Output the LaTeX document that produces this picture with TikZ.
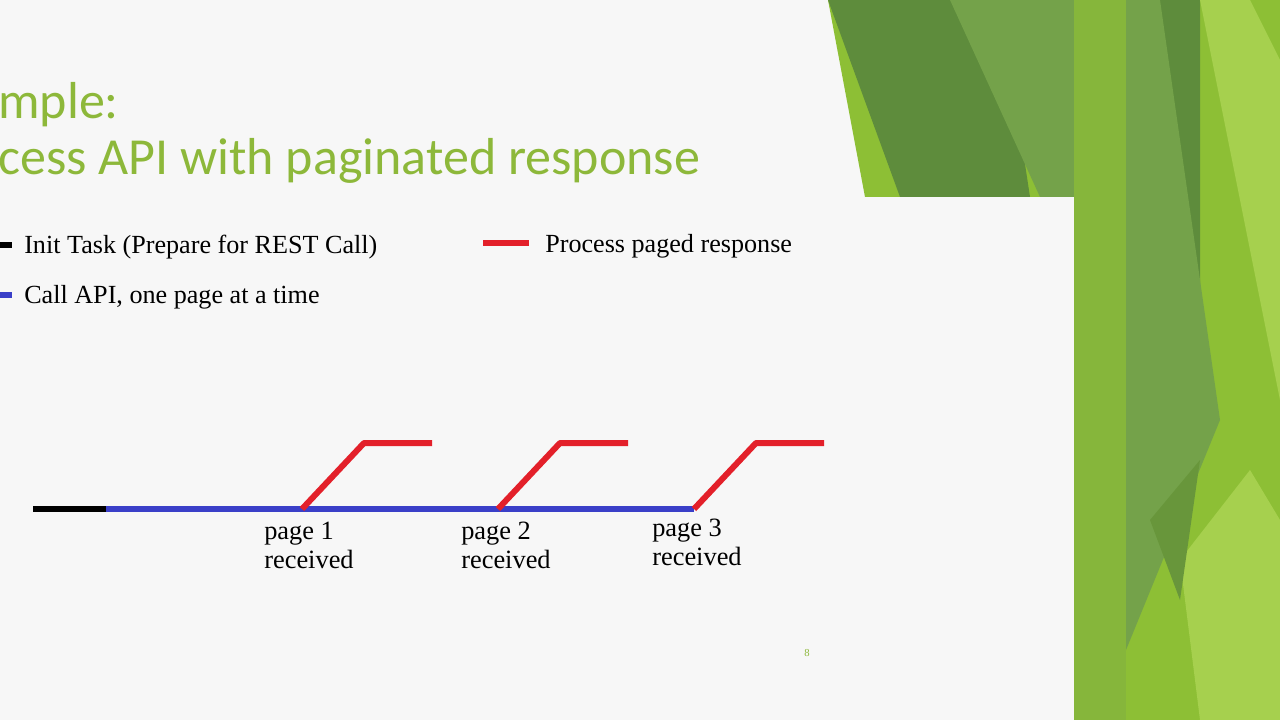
\documentclass[tikz,border=0pt]{standalone}
\usepackage{fontspec}
\setmainfont{Liberation Serif}
\newfontfamily\titlefont{Carlito}
\definecolor{bg}{HTML}{F7F7F7}
\definecolor{gA}{HTML}{5E8C3C}
\definecolor{gB}{HTML}{74A24A}
\definecolor{gC}{HTML}{8DBF35}
\definecolor{gD}{HTML}{A6D04E}
\definecolor{ttl}{HTML}{8DB83A}
\definecolor{rd}{HTML}{E3202A}
\definecolor{bl}{HTML}{3A3FC8}
\tikzset{seg/.style={line width=5pt},lbl/.style={anchor=west,font=\fontsize{19.6}{22}\selectfont,inner sep=0pt},
 plbl/.style={anchor=north west,align=left,font=\fontsize{19.8}{21.5}\selectfont,inner sep=0pt}}
\begin{document}
\begin{tikzpicture}[x=0.75pt,y=-0.75pt]
\useasboundingbox (0,0) rectangle (1280,720);
\fill[bg] (0,0) rectangle (1280,720);
% green decoration
\fill[gC] (828,0) -- (1074,0) -- (1074,197) -- (865,197) -- cycle;
\fill[gA] (828,0) -- (1000,0) -- (1030,197) -- (900,197) -- cycle;
\fill[gB] (950,0) -- (1074,0) -- (1074,197) -- (1040,197) -- cycle;
\fill[gC] (1074,0) rectangle (1280,720);
\fill[gA] (1126,0) -- (1200,0) -- (1200,330) -- (1126,500) -- cycle;
\fill[gB] (1126,0) -- (1160,0) -- (1220,420) -- (1126,650) -- cycle;
\fill[gD] (1200,0) -- (1250,0) -- (1280,60) -- (1280,400) -- cycle;
\fill[gB] (1126,400) -- (1180,440) -- (1126,500) -- cycle;
\fill[gD] (1180,560) -- (1250,470) -- (1280,520) -- (1280,720) -- (1200,720) -- cycle;
\fill[gA!80!gC] (1150,520) -- (1200,460) -- (1180,600) -- cycle;
\fill[gC!70!gB] (1074,0) rectangle (1126,720);
% title
\node[anchor=west,inner sep=0pt,text=ttl,font=\titlefont\fontsize{39}{42}\selectfont] (t1) at (-2,105) {mple:};
\node[anchor=west,inner sep=0pt,text=ttl,font=\titlefont\fontsize{39}{42}\selectfont] (t2) at (-2,161) {cess API with paginated response};
% legend
\draw[seg,black] (0,245) -- (12,245);
\node[lbl] (l1) at (24,247) {Init Task (Prepare for REST Call)};
\draw[seg,bl] (0,295) -- (12,295);
\node[lbl] (l2) at (24,297) {Call API, one page at a time};
\draw[seg,rd] (483,243) -- (529,243);
\node[lbl] (l3) at (545,246) {Process paged response};
% timeline
\coordinate (s) at (33,509); \coordinate (b0) at (106,509);
\coordinate (p1) at (302,509); \coordinate (p2) at (498,509); \coordinate (p3) at (694,509);
\draw[seg,black] (s) -- (b0);
\draw[seg,bl] (b0) -- (p3);
\foreach \p in {p1,p2,p3}{
 \draw[line width=4.5pt,rd,line join=round] (\p) -- ++(62,-66) -- ++(68,0);}
\node[plbl] (q1) at (264,522) {page 1\\received};
\node[plbl] (q2) at (461,522) {page 2\\received};
\node[plbl] (q3) at (652,519) {page 3\\received};
\node[text=ttl,font=\fontsize{8}{9}\selectfont] (pg) at (807,653) {8};
\end{tikzpicture}
\end{document}
